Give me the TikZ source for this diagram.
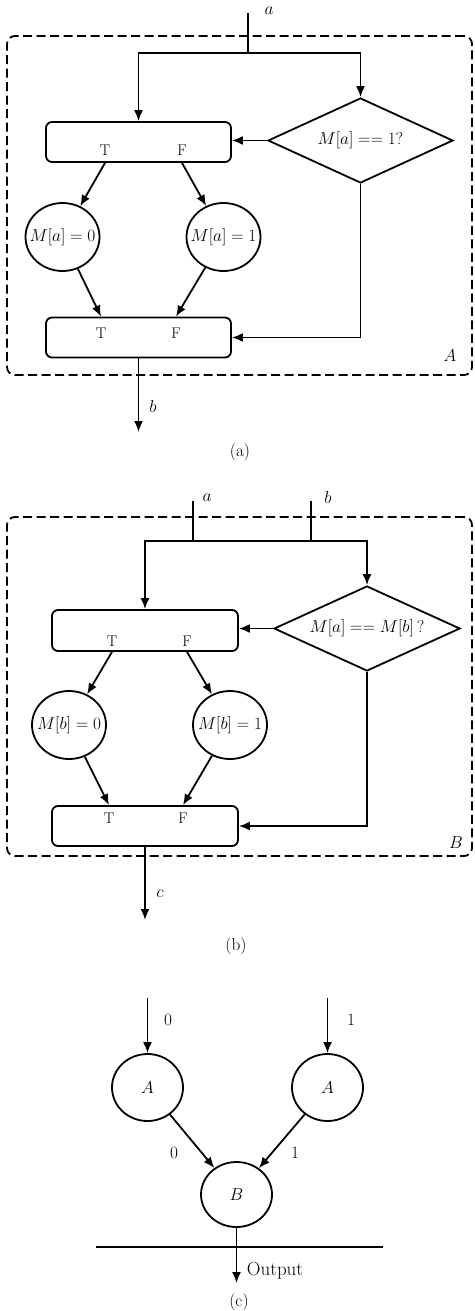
\documentclass[tikz,border=0pt]{standalone}
\usetikzlibrary{arrows.meta,shapes.geometric}
\begin{document}
\begin{tikzpicture}[x=1pt,y=-1pt,line width=1.8pt,
  >={Latex[length=11pt,width=9pt]},
  box/.style={draw,rounded corners=6pt,minimum width=185pt,minimum height=40pt,inner sep=0pt},
  dia/.style={draw,diamond,aspect=2.18,minimum width=185pt,minimum height=85pt,inner sep=0pt,font=\LARGE},
  ell/.style={draw,ellipse,minimum width=74pt,minimum height=68pt,inner sep=0pt,font=\LARGE},
  frame/.style={draw,dash pattern=on 9pt off 4.5pt,rounded corners=8pt,minimum width=465pt,minimum height=339pt,inner sep=0pt},
  tf/.style={inner sep=0pt,font=\fontsize{15.5}{18}\selectfont},
  lab/.style={inner sep=0pt,font=\LARGE},
  captext/.style={inner sep=0pt,font=\LARGE}]
\useasboundingbox (0,0) rectangle (474,1311);

% ---------------- panel (a)
\node[frame] (frameA) at (239.5,205.5) {};
\node[box] (boxA1) at (138.5,142) {};
\node[dia] (dA) at (360.5,140.5) {$M[a]==1?$};
\node[tf] (tA1) at (105,150) {T};
\node[tf] (fA1) at (182,150) {F};
\node[ell] (cA0) at (62.5,237) {\makebox[0pt]{$M[a]=0$}};
\node[ell] (cA1) at (223.5,237) {\makebox[0pt]{$M[a]=1$}};
\node[box] (boxA2) at (138.5,337.5) {};
\node[tf] (tA2) at (101,333) {T};
\node[tf] (fA2) at (176,333) {F};
\coordinate (inA) at (248,13);
\coordinate (jA) at (248,53);
\coordinate (outA) at (138.5,432);
\node[lab] (la) at (269,11) {$a$};
\node[lab] (lb) at (153,406) {$b$};
\node[lab] (lA) at (450,356) {$A$};
\node[captext] (capA) at (240,452) {(a)};

\draw (inA) -- (jA);
\draw[->] (jA) -| (boxA1.north);
\draw[->] (jA) -| (dA.north);
\draw[->] (dA.west) -- (dA.west -| boxA1.east);
\draw[->] (tA1 |- boxA1.south) -- (cA0);
\draw[->] (fA1 |- boxA1.south) -- (cA1);
\draw[->] (cA0) -- (tA2 |- boxA2.north);
\draw[->] (cA1) -- (fA2 |- boxA2.north);
\draw[->] (dA.south) |- (boxA2.east);
\draw[->] (boxA2.south) -- (outA);

% ---------------- panel (b)
\node[frame] (frameB) at (239.5,686.5) {};
\node[box,minimum width=186pt,minimum height=41pt] (boxB1) at (145,630.5) {};
\node[dia,minimum width=186pt] (dB) at (367,628.5) {$M[a]==M[b]\,?$};
\node[tf] (tB1) at (112,641) {T};
\node[tf] (fB1) at (187,641) {F};
\node[ell] (cB0) at (69,725) {\makebox[0pt]{$M[b]=0$}};
\node[ell] (cB1) at (230,725) {\makebox[0pt]{$M[b]=1$}};
\node[box,minimum width=186pt] (boxB2) at (145,826) {};
\node[tf] (tB2) at (109,818) {T};
\node[tf] (fB2) at (183,818) {F};
\coordinate (inBa) at (193,501);
\coordinate (inBb) at (311,501);
\coordinate (jBa) at (193,541);
\coordinate (jBb) at (311,541);
\coordinate (outB) at (145,920);
\node[lab] (lBa) at (207,498) {$a$};
\node[lab] (lBb) at (328,497) {$b$};
\node[lab] (lc) at (160,894) {$c$};
\node[lab] (lB) at (456,843) {$B$};
\node[captext] (capB) at (236,946) {(b)};

\draw (inBa) -- (jBa);
\draw (inBb) -- (jBb);
\draw (jBa) -- (jBb);
\draw[->] (jBa) -| (boxB1.north);
\draw[->] (jBb) -| (dB.north);
\draw[->] (dB.west) -- (dB.west -| boxB1.east);
\draw[->] (tB1 |- boxB1.south) -- (cB0);
\draw[->] (fB1 |- boxB1.south) -- (cB1);
\draw[->] (cB0) -- (tB2 |- boxB2.north);
\draw[->] (cB1) -- (fB2 |- boxB2.north);
\draw[->] (dB.south) |- (boxB2.east);
\draw[->] (boxB2.south) -- (outB);

% ---------------- panel (c)
\node[ell,minimum width=71pt,minimum height=67pt] (cC0) at (147.5,1087.5) {$A$};
\node[ell,minimum width=71pt,minimum height=67pt] (cC1) at (327.5,1087.5) {$A$};
\node[ell,minimum width=71pt,minimum height=65pt] (cCB) at (236.5,1194.5) {$B$};
\coordinate (in0) at (147.5,998);
\coordinate (in1) at (327.5,998);
\coordinate (hl) at (96,1247);
\coordinate (hr) at (383,1247);
\coordinate (outC) at (236.5,1283);
\node[lab] (l0a) at (168,1020) {$0$};
\node[lab] (l1a) at (351,1020) {$1$};
\node[lab] (l0b) at (174,1153) {$0$};
\node[lab] (l1b) at (295,1153) {$1$};
\node[inner sep=0pt,anchor=west,font=\fontsize{19}{23}\selectfont] (lout) at (246,1271) {Output};
\node[captext] (capC) at (239,1302) {(c)};

\draw[->] (in0) -- (cC0);
\draw[->] (in1) -- (cC1);
\draw[->] (cC0) -- (cCB);
\draw[->] (cC1) -- (cCB);
\draw[line width=1.5pt] (hl) -- (hr);
\draw[->] (cCB) -- (outC);
\end{tikzpicture}
\end{document}
